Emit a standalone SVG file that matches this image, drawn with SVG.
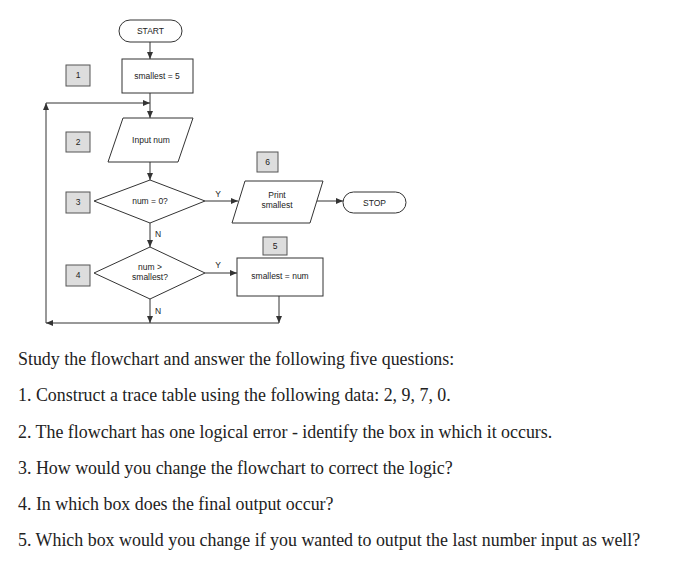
<svg xmlns="http://www.w3.org/2000/svg" width="698" height="564" viewBox="0 0 698 564">
<style>
.s{fill:#fff;stroke:#333;stroke-width:1}
.n{fill:#ddd;stroke:#555;stroke-width:1}
.t{font-family:"Liberation Sans",Arial,sans-serif;font-size:8.5px;fill:#222;text-anchor:middle}
.q{font-family:"Liberation Serif","Times New Roman",serif;font-size:17.9px;fill:#222}
.c{fill:none;stroke:#333;stroke-width:1}
</style>
<defs><marker id="a" markerWidth="8" markerHeight="8" refX="7" refY="4" orient="auto" markerUnits="userSpaceOnUse"><path d="M0,1 L7,4 L0,7 Z" fill="#333"/></marker></defs>
<rect width="698" height="564" fill="#fff"/>
<g id="start"><rect class="s" x="119" y="20" width="63" height="22" rx="11"/><text class="t" x="150.5" y="34">START</text></g>
<g id="box1"><rect class="s" x="122" y="59" width="71" height="34"/><text class="t" x="157" y="79">smallest = 5</text></g>
<g id="input"><polygon class="s" points="123,118 193,118 178,162 108,162"/><text class="t" x="151" y="143">Input num</text></g>
<g id="d3"><polygon class="s" points="94,201 150,180 205,201 150,223"/><text class="t" x="150" y="204">num = 0?</text></g>
<g id="print"><polygon class="s" points="245,181 323,181 310,223 232,223"/><text class="t" x="277" y="198">Print</text><text class="t" x="277" y="208">smallest</text></g>
<g id="stop"><rect class="s" x="343" y="192" width="63" height="21" rx="10.5"/><text class="t" x="374.5" y="205.5">STOP</text></g>
<g id="d4"><polygon class="s" points="94,273 150,247 205,273 150,299"/><text class="t" x="150" y="270">num &gt;</text><text class="t" x="150" y="280">smallest?</text></g>
<g id="box5"><rect class="s" x="237" y="258" width="86" height="38"/><text class="t" x="280" y="279">smallest = num</text></g>
<g id="labels">
<rect class="n" x="66" y="65" width="24" height="21"/><text class="t" x="78" y="78" font-size="7">1</text>
<rect class="n" x="66" y="132" width="24" height="20"/><text class="t" x="78" y="145" font-size="7">2</text>
<rect class="n" x="66" y="192" width="24" height="21"/><text class="t" x="78" y="205" font-size="7">3</text>
<rect class="n" x="66" y="265" width="24" height="21"/><text class="t" x="78" y="278" font-size="7">4</text>
<rect class="n" x="257" y="152" width="21" height="20"/><text class="t" x="267.5" y="165" font-size="7">6</text>
<rect class="n" x="263" y="237" width="24" height="18"/><text class="t" x="275" y="249" font-size="7">5</text>
</g>
<g id="connectors">
<line class="c" x1="150" y1="42" x2="150" y2="59" marker-end="url(#a)"/>
<line class="c" x1="150" y1="93" x2="150" y2="118" marker-end="url(#a)"/>
<line class="c" x1="46" y1="323" x2="46" y2="103" marker-end="url(#a)"/>
<line class="c" x1="46" y1="103" x2="150" y2="103" marker-end="url(#a)"/>
<line class="c" x1="150" y1="162" x2="150" y2="180" marker-end="url(#a)"/>
<line class="c" x1="205" y1="201" x2="238" y2="201" marker-end="url(#a)"/>
<line class="c" x1="317" y1="201" x2="343" y2="201" marker-end="url(#a)"/>
<line class="c" x1="150" y1="223" x2="150" y2="247" marker-end="url(#a)"/>
<line class="c" x1="205" y1="273" x2="237" y2="273" marker-end="url(#a)"/>
<line class="c" x1="150" y1="299" x2="150" y2="323" marker-end="url(#a)"/>
<line class="c" x1="279" y1="296" x2="279" y2="323" marker-end="url(#a)"/>
<line class="c" x1="279" y1="323" x2="46" y2="323" marker-end="url(#a)"/>
<text class="t" x="218" y="197">Y</text>
<text class="t" x="218" y="268">Y</text>
<text class="t" x="158" y="237">N</text>
<text class="t" x="158" y="314">N</text>
</g>
<g id="questions">
<text class="q" x="18" y="365">Study the flowchart and answer the following five questions:</text>
<text class="q" x="18" y="401">1. Construct a trace table using the following data: 2, 9, 7, 0.</text>
<text class="q" x="18" y="438">2. The flowchart has one logical error - identify the box in which it occurs.</text>
<text class="q" x="18" y="474">3. How would you change the flowchart to correct the logic?</text>
<text class="q" x="18" y="510">4. In which box does the final output occur?</text>
<text class="q" x="18" y="546">5. Which box would you change if you wanted to output the last number input as well?</text>
</g>
</svg>
